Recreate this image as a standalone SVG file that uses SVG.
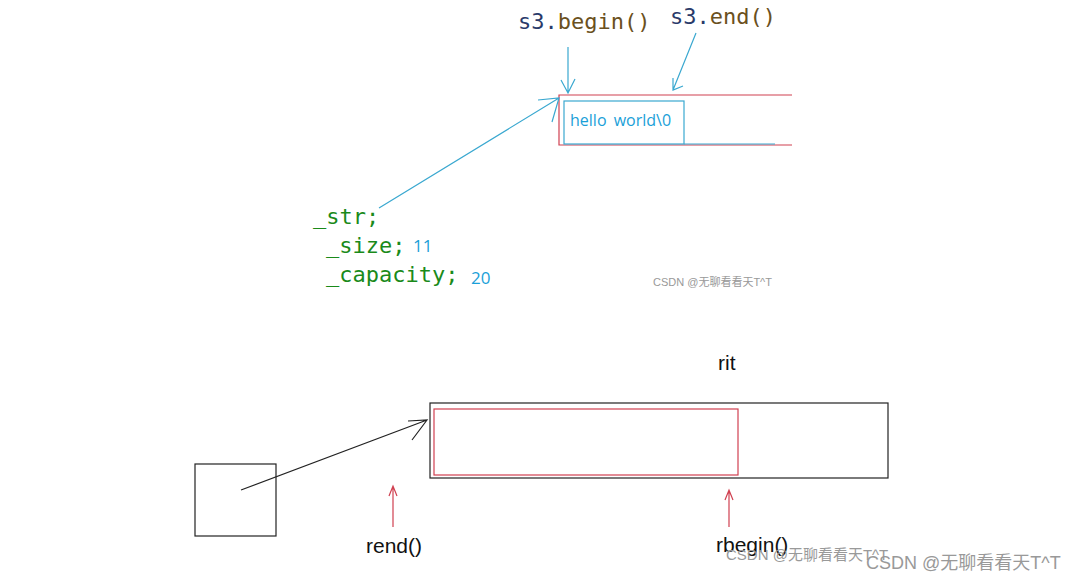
<svg xmlns="http://www.w3.org/2000/svg" width="1085" height="579" viewBox="0 0 1085 579">
<style>
.code{font-family:"DejaVu Sans Mono",monospace;font-size:22px}
.g{fill:#1a8a1a}
.b{fill:#1aa0d8;font-family:"Open Sans","Liberation Sans",sans-serif}
.cy{stroke:#3aa8d0;fill:none;stroke-width:1.2}
.rd{stroke:#d04050;fill:none;stroke-width:1.2}
.bk{stroke:#222;fill:none;stroke-width:1.2}
.lbl{font-family:"Liberation Sans",Arial,sans-serif;font-size:21px;fill:#111}
.wm{font-family:"Liberation Sans","Noto Sans CJK SC",sans-serif;fill:#999}
</style>
<rect width="1085" height="579" fill="#fff"/>
<g id="top-labels">
<text class="code" x="518" y="29"><tspan fill="#2a3a6a">s3.</tspan><tspan fill="#6a5020">begin()</tspan></text>
<text class="code" x="670" y="24"><tspan fill="#2a3a6a">s3.</tspan><tspan fill="#6a5020">end()</tspan></text>
</g>
<g id="buffer">
<path class="rd" d="M792 95 H559 V145 H792"/>
<rect class="cy" x="564" y="101" width="120" height="43"/>
<line class="cy" x1="684" y1="144" x2="775" y2="144"/>
<text class="b" x="570" y="126" font-size="16" word-spacing="3">hello world\0</text>
</g>
<g id="members">
<text class="code g" x="313" y="224">_str;</text>
<text class="code g" x="326" y="253">_size;</text>
<text class="b" x="413" y="252" font-size="17">11</text>
<text class="code g" x="326" y="282">_capacity;</text>
<text class="b" x="471" y="284" font-size="17">20</text>
</g>
<g id="bottom">
<rect class="bk" x="430" y="403" width="458" height="75"/>
<rect class="rd" x="434" y="409" width="304" height="66"/>
<rect class="bk" x="195" y="464" width="81" height="72"/>
<text class="lbl" x="718" y="370">rit</text>
<text class="lbl" x="366" y="553">rend()</text>
<text class="lbl" x="716" y="552">rbegin()</text>
</g>
<g id="connectors">
<path class="cy" d="M568 47 V93 M561 80 L568 93 L575 79"/>
<path class="cy" d="M696 33 L673 90 M673 78 L673 90 L683 86"/>
<path class="cy" d="M379 208 L559 98 M538 100 L559 98 L552 122"/>
<path class="bk" d="M241 490 L427 420 M408 421 L427 420 L412 440"/>
<path class="rd" d="M393 527 V486 M389 496 L393 486 L397 496"/>
<path class="rd" d="M729 527 V490 M725 500 L729 490 L733 500"/>
</g>
<g id="watermarks">
<text class="wm" x="653" y="286" font-size="11">CSDN @无聊看看天T^T</text>
<text class="wm" x="726" y="560" font-size="15">CSDN @无聊看看天T^T</text>
<text class="wm" x="866" y="569" font-size="18">CSDN @无聊看看天T^T</text>
</g>
</svg>
